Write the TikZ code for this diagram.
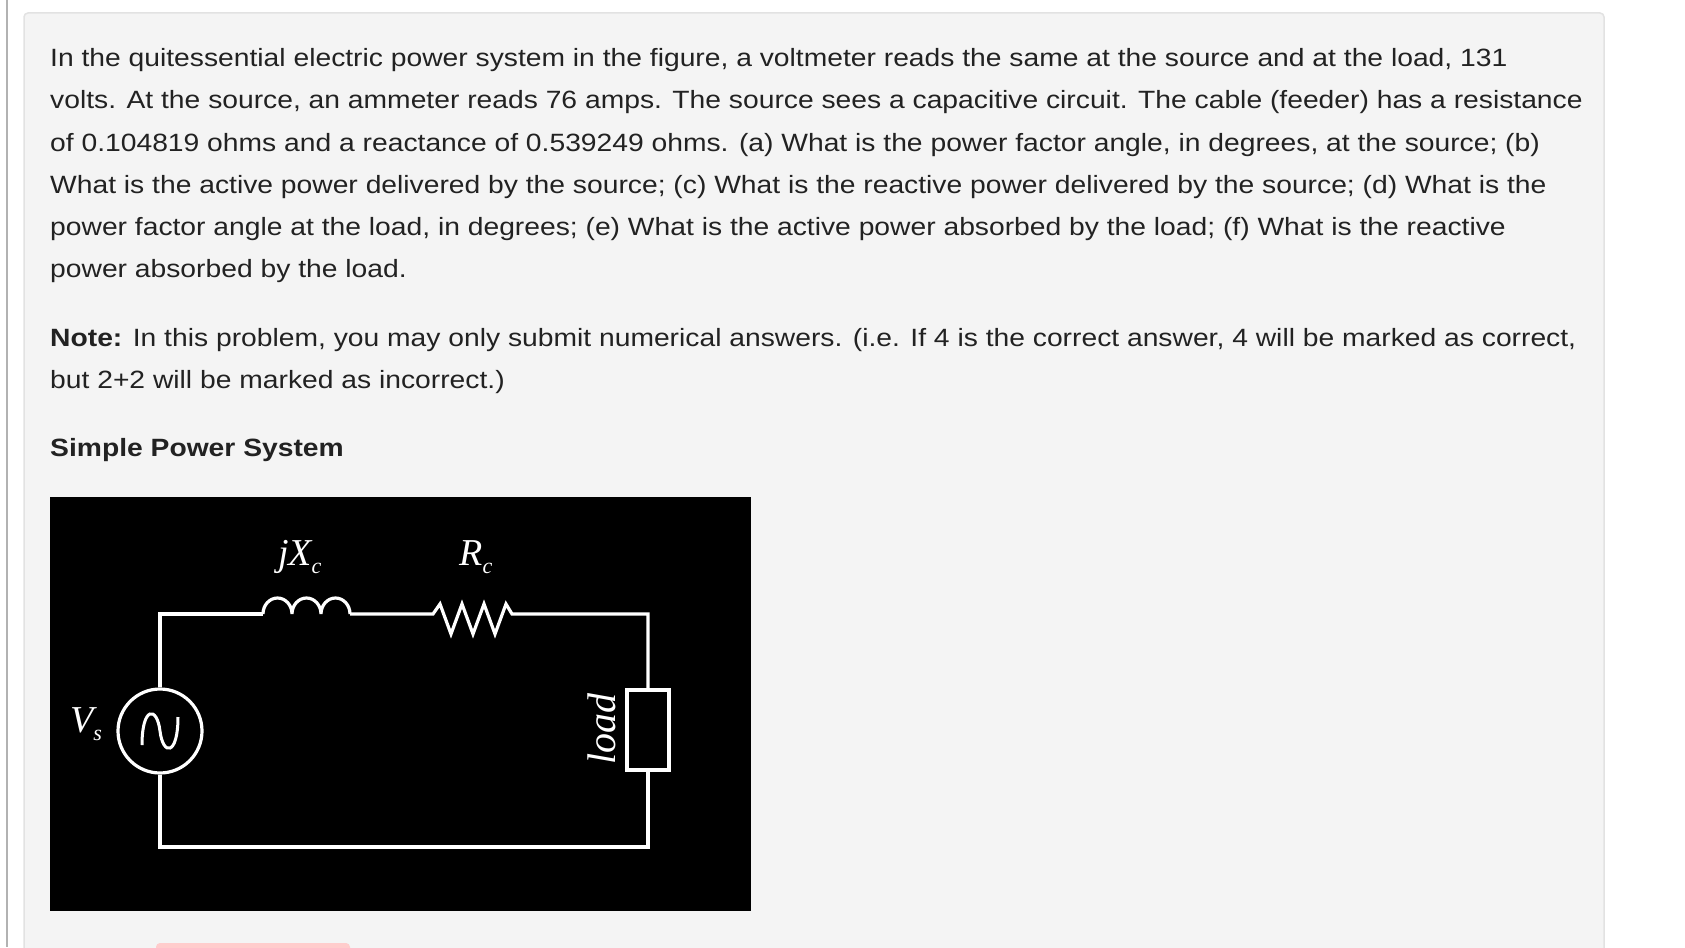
\documentclass[tikz,border=0pt]{standalone}
\usepackage{fontspec}
\setmainfont[FakeStretch=1.13]{Liberation Sans}
\newfontfamily\serifit{Liberation Serif}
\definecolor{panelbg}{HTML}{F4F4F4}
\definecolor{panelbd}{HTML}{E2E2E2}
\definecolor{txt}{HTML}{222222}
\begin{document}
\begin{tikzpicture}[x=1pt,y=-1pt,
  line/.style={anchor=base west,inner sep=0,text=txt,font=\fontsize{25}{30}\selectfont},
  wire/.style={white,line width=3.2pt,line join=miter},
  clabel/.style={text=white,inner sep=0,font=\serifit\itshape\fontsize{38}{40}\selectfont}]
\useasboundingbox (0,0) rectangle (1685,947);
\fill[white] (0,0) rectangle (1685,947);
\draw[gray!60,line width=1.2pt] (7,0) -- (7,947);
\draw[panelbd,fill=panelbg,line width=1.5pt,rounded corners=4pt] (24,13) -- (1604,13) -- (1604,960) -- (24,960) -- cycle;
\node[line] (l1) at (50,67) {In the quitessential electric power system in the figure, a voltmeter reads the same at the source and at the load, 131};
\node[line] (l2) at (50,109) {volts. At the source, an ammeter reads 76 amps. The source sees a capacitive circuit. The cable (feeder) has a resistance};
\node[line] (l3) at (50,151) {of 0.104819 ohms and a reactance of 0.539249 ohms. (a) What is the power factor angle, in degrees, at the source; (b)};
\node[line] (l4) at (50,193) {What is the active power delivered by the source; (c) What is the reactive power delivered by the source; (d) What is the};
\node[line] (l5) at (50,235) {power factor angle at the load, in degrees; (e) What is the active power absorbed by the load; (f) What is the reactive};
\node[line] (l6) at (50,277) {power absorbed by the load.};
\node[line] (n1) at (50,346) {\textbf{Note:} In this problem, you may only submit numerical answers. (i.e. If 4 is the correct answer, 4 will be marked as correct,};
\node[line] (n2) at (50,388) {but 2+2 will be marked as incorrect.)};
\node[line] (h) at (50,456) {\textbf{Simple Power System}};
\fill[black] (49.5,497) rectangle (750.5,911);
% circuit
\node[draw=white,line width=3.2pt,circle,minimum size=84pt,inner sep=0] (src) at (160,731) {};
\draw[white,line width=3pt] ([xshift=-18pt,yshift=-14pt]src.center) .. controls ([xshift=-18pt,yshift=25pt]src.center) and ([xshift=-3pt,yshift=25pt]src.center) .. (src.center) .. controls ([xshift=3pt,yshift=-25pt]src.center) and ([xshift=18pt,yshift=-25pt]src.center) .. ([xshift=18pt,yshift=14pt]src.center);
\node[draw=white,line width=3.2pt,minimum width=42pt,minimum height=80pt,inner sep=0] (load) at (648,730) {};
\coordinate (tl) at (160,614);
\coordinate (tr) at (648,614);
\coordinate (bl) at (160,847);
\coordinate (br) at (648,847);
\coordinate (ia) at (263,614);
\coordinate (ib) at (350,614);
\coordinate (ra) at (433,614);
\coordinate (rb) at (522,614);
\draw[wire] (src.north) -- (tl) -- (ia);
\draw[wire] (ia) arc[start angle=180,end angle=0,x radius=14.5pt,y radius=16pt]
  arc[start angle=180,end angle=0,x radius=14.5pt,y radius=16pt]
  arc[start angle=180,end angle=0,x radius=14.5pt,y radius=16pt] -- (ib);
\draw[wire] (ib) -- (ra) -- ++(7,-10) -- ++(11,30) -- ++(11,-30) -- ++(11,30) -- ++(11,-30) -- ++(11,30) -- ++(11,-30) -- ++(6,10) -- (rb) -- (tr) -- (load.north);
\draw[wire] (load.south) -- (br) -- (bl) -- (src.south);
\node[clabel] (jx) at (300,557) {j\kern-1pt X\raisebox{-8pt}{\fontsize{22}{22}\selectfont c}};
\node[clabel] (rc) at (476,557) {R\raisebox{-8pt}{\fontsize{22}{22}\selectfont c}};
\node[clabel] (vs) at (86,724) {V\raisebox{-8pt}{\fontsize{22}{22}\selectfont s}};
\node[clabel,rotate=90,font=\serifit\itshape\fontsize{40}{40}\selectfont] (ld) at (602,729) {load};
\fill[red!20,rounded corners=4pt] (156,943) rectangle (350,955);
\end{tikzpicture}
\end{document}
